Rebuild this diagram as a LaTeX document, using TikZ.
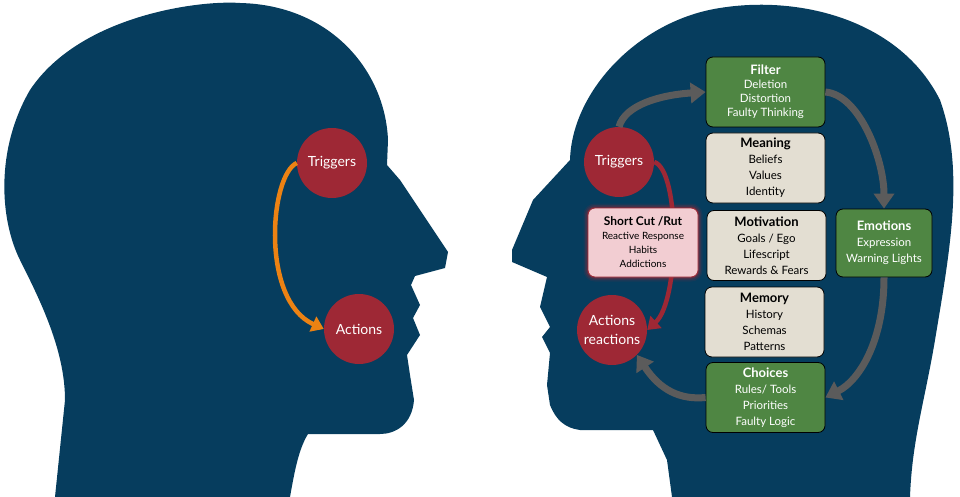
\documentclass[tikz,border=0pt]{standalone}
\usepackage{fontspec}
\setmainfont{Lato}
\usepackage{tikz}
\usetikzlibrary{arrows.meta}

\definecolor{headblue}{HTML}{063D5E}
\definecolor{circred}{HTML}{9E2835}
\definecolor{boxgreen}{HTML}{4F8643}
\definecolor{boxbeige}{HTML}{E3DED2}
\definecolor{boxpink}{HTML}{F2CDD2}
\definecolor{arrgray}{HTML}{5B5B5B}
\definecolor{arrorange}{HTML}{EC8213}

\tikzset{
  circ/.style={circle,fill=circred,text=white,minimum size=70pt,inner sep=0pt,align=center,font=\fontsize{14}{17}\selectfont},
  box/.style={rounded corners=7pt,draw=black,line width=0.8pt,minimum width=119pt,minimum height=70pt,align=center,inner sep=1pt,font=\fontsize{11.5}{16}\selectfont},
  gbox/.style={box,fill=boxgreen,text=white},
  bbox/.style={box,fill=boxbeige,text=black},
  flow/.style={line width=7pt,-{Triangle[length=15pt,width=20pt]}},
}
\newcommand\boxtitle[1]{\textbf{\fontsize{13}{16}\selectfont #1}}

\begin{document}
\begin{tikzpicture}[x=1pt,y=-1pt]
\useasboundingbox (0,0) rectangle (960,497);

    % left head
    \fill[headblue] (55,497) -- (65,400) .. controls (65,350) and (40,300) .. (20,260)
      .. controls (0,220) and (-5,150) .. (30,90)
      .. controls (80,15) and (200,0) .. (240,3)
      .. controls (330,5) and (385,70) .. (388,140)
      -- (387,165) -- (400,180) -- (430,225) -- (448,252) -- (445,268)
      -- (415,276) -- (411,285) -- (420,305) -- (413,318) -- (420,335)
      -- (407,355) -- (410,375) -- (414,400) .. controls (412,425) and (395,434) .. (380,434)
      -- (308,434) .. controls (298,450) and (294,475) .. (290,497) -- cycle;

    % right head
    \fill[headblue] (672,497) -- (667,460) -- (653,430) -- (580,430)
      .. controls (565,428) and (556,420) .. (550,405) -- (547,385) -- (550,353)
      -- (542,337) -- (550,327) -- (540,307) -- (547,277) -- (512,262) -- (512,250)
      -- (533,200) -- (570,160) .. controls (572,90) and (640,20) .. (720,8)
      .. controls (800,-5) and (900,20) .. (940,100)
      .. controls (965,170) and (950,250) .. (935,340)
      .. controls (925,400) and (912,440) .. (910,497) -- cycle;

    % left picture
    \node[circ] (trigL) at (332,163) {Triggers};
    \node[circ] (actL) at (359,329) {Actions};
    \draw[arrorange,line width=4.5pt,-{Triangle[length=12pt,width=16pt]}]
      (trigL.west) .. controls (270,175) and (260,300) .. (actL.west);

    % right picture
    \node[gbox,font=\fontsize{11.5}{14}\selectfont] (filter) at (765.5,92) {\boxtitle{Filter}\\Deletion\\Distortion\\Faulty Thinking};
    \node[bbox] (meaning) at (765.5,168) {\boxtitle{Meaning}\\Beliefs\\Values\\Identity};
    \node[bbox] (motiv) at (766.5,245.5) {\boxtitle{Motivation}\\Goals / Ego\\Lifescript\\Rewards \& Fears};
    \node[bbox] (memory) at (764.5,322) {\boxtitle{Memory}\\History\\Schemas\\Patterns};
    \node[gbox] (choices) at (765.5,397.5) {\boxtitle{Choices}\\Rules/ Tools\\Priorities\\Faulty Logic};
    \node[gbox,minimum width=96pt,minimum height=68pt] (emotions) at (884,243) {\boxtitle{Emotions}\\Expression\\Warning Lights};

    \node[circ] (trigR) at (619,162) {Triggers};
    \node[circ,font=\fontsize{14}{19}\selectfont] (actR) at (612,330) {Actions\\reactions};

    % short cut
    \draw[circred,line width=4.5pt,-{Triangle[length=12pt,width=16pt]}]
      (trigR.east) .. controls (680,170) and (680,300) .. (actR.east);
    \foreach \w/\o in {9/0.12,6/0.2,3/0.35}
      \draw[circred,opacity=\o,line width=\w pt,rounded corners=7pt] (588,208) rectangle (698,277);
    \node[box,fill=boxpink,draw=circred,minimum width=110pt,minimum height=69pt,font=\fontsize{10}{14}\selectfont] (shortcut) at (643,242.5)
      {\textbf{\fontsize{12}{15}\selectfont Short Cut /Rut}\\Reactive Response\\Habits\\Addictions};

    \draw[arrgray,flow] (trigR.north) .. controls (625,105) and (660,95) .. (filter.west);
    \draw[arrgray,flow] (filter.east) .. controls (860,95) and (884,160) .. (emotions.north);
    \draw[arrgray,flow] (emotions.south) .. controls (884,340) and (860,380) .. (choices.east);
    \draw[arrgray,flow] (choices.west) .. controls (680,400) and (660,390) .. (actR.south east);

\end{tikzpicture}
\end{document}
